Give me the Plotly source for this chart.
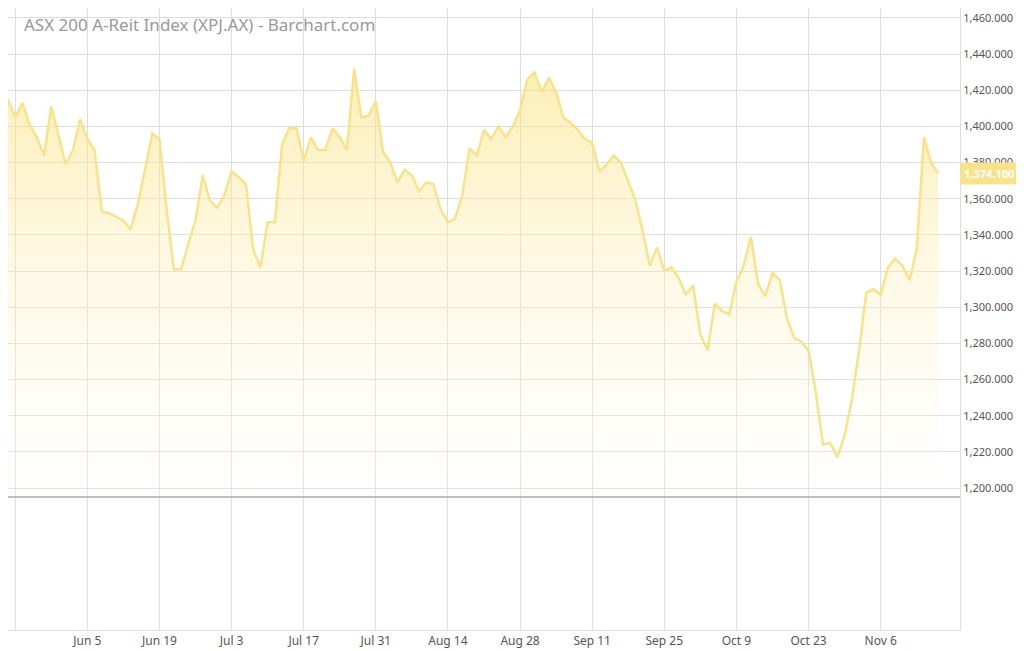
import plotly.graph_objects as go
import pandas as pd

values = [1415,1405,1413,1401,1394,1384,1411,1395,1379,1387,1404,1393,1387,1353,1352,1350,1348,1343,1357,1376,1396,
          1393,1354,1321,1321,1335,1348,1373,1359,1355,1362,1375,1372,1368,1332,1322,1347,1347,1390,1399,1399,1381,
          1394,1387,1387,1399,1394,1387,1432,1405,1406,1414,1386,1380,1369,1376,1373,1364,1369,1368,1354,1347,
          1349,1362,1388,1384,1398,1393,1400,1394,1400,1409,1426,1430,1419,1427,1419,1405,1402,1398,1393,1391,
          1375,1379,1384,1380,1370,1359,1342,1323,1333,1320,1322,1316,1307,1312,1285,1276,1302,1298,1296,1314,
          1323,1339,1313,1306,1319,1315,1294,1283,1281,1276,1253,1224,1225,1217,1229,1249,1276,1308,1310,1307,
          1322,1327,1323,1315,1332,1394,1380,1374.1]
dates = pd.bdate_range("2023-05-19", periods=len(values))
tick_dates = pd.date_range("2023-05-22", "2023-11-06", freq="14D")
tick_labels = [d.strftime("%b ") + str(d.day) for d in tick_dates]
y_ticks = list(range(1200, 1461, 20))
baseline = 1195

fig = go.Figure()
fig.add_trace(go.Scatter(x=dates, y=[baseline]*len(values), mode="lines", line=dict(width=0), hoverinfo="skip"))
fig.add_trace(go.Scatter(x=dates, y=values, mode="lines", fill="tonexty",
                         line=dict(color="#f8e38a", width=2.5),
                         fillgradient=dict(type="vertical",
                                           colorscale=[[0, "rgba(255,255,255,0.2)"], [1, "rgba(250,225,120,0.55)"]])))
fig.add_shape(type="line", xref="paper", x0=0, x1=1, y0=baseline, y1=baseline, line=dict(color="#aaaaaa", width=1.5))
fig.add_annotation(xref="paper", yref="paper", x=0.015, y=0.995, xanchor="left", yanchor="top",
                   text="ASX 200 A-Reit Index (XPJ.AX) - Barchart.com", showarrow=False,
                   font=dict(size=17, color="#999999", family="Noto Sans"))
fig.add_annotation(xref="paper", x=1.0, y=values[-1], xanchor="left", text="<b>1,374.100</b>", showarrow=False,
                   bgcolor="#f8e38a", font=dict(color="white", size=11, family="Noto Sans"), borderpad=3)
fig.update_layout(width=1024, height=651, margin=dict(l=0, r=72, t=0, b=29, autoexpand=False), plot_bgcolor="white",
                  paper_bgcolor="white", showlegend=False, font=dict(family="Noto Sans", color="#555", size=11))
fig.update_xaxes(range=[pd.Timestamp("2023-05-19"), pd.Timestamp("2023-11-21")],
                 rangebreaks=[dict(bounds=["sat", "mon"])], automargin=False,
                 tickvals=tick_dates, ticktext=tick_labels, showgrid=True, gridcolor="#dddddd",
                 showline=True, linecolor="#dddddd", ticks="", tickfont=dict(size=12))
fig.update_yaxes(side="right", range=[1121.5, 1465.5], tickvals=y_ticks, tickformat=",.3f", automargin=False,
                 showgrid=True, gridcolor="#dddddd", showline=True, linecolor="#dddddd", mirror=False,
                 zeroline=False, tickfont=dict(size=11))
fig.write_html("out.html")
